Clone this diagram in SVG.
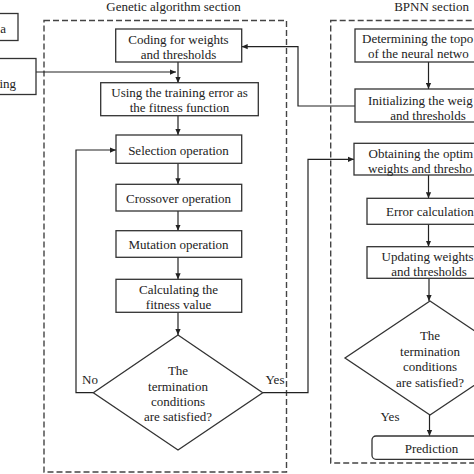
<svg xmlns="http://www.w3.org/2000/svg" width="474" height="474" viewBox="0 0 474 474">
<defs>
<marker id="arr" viewBox="0 0 8 8" refX="8" refY="4" markerWidth="6" markerHeight="6" markerUnits="userSpaceOnUse" orient="auto">
<path d="M0,0.5 L8,4 L0,7.5 z" fill="#222"/>
</marker>
<style>
text{font-family:"Liberation Serif","Times New Roman",serif;font-size:13px;fill:#222;text-anchor:middle}
.st{text-anchor:start}
.box{fill:#fff;stroke:#333;stroke-width:1.3}
.sec{fill:none;stroke:#444;stroke-width:1.4;stroke-dasharray:6 3}
.ln{fill:none;stroke:#222;stroke-width:1.2}
.ar{fill:none;stroke:#222;stroke-width:1.2;marker-end:url(#arr)}
</style>
</defs>
<rect width="474" height="474" fill="#fff"/>
<g id="sections">
<rect class="sec" x="44" y="20.5" width="242.5" height="451.5"/>
<text x="173.5" y="10.5">Genetic algorithm section</text>
<rect class="sec" x="330.7" y="20.5" width="220" height="442.5"/>
<text x="431.5" y="10.5">BPNN section</text>
</g>
<g id="connectors">
<path class="ar" d="M36,72 H176"/>
<path class="ar" d="M178,62 V83"/>
<path class="ar" d="M178,116 V135"/>
<path class="ar" d="M178,163.3 V184.3"/>
<path class="ar" d="M178,211 V230.7"/>
<path class="ar" d="M178,257.3 V279.3"/>
<path class="ar" d="M178,312.3 V335"/>
<path class="ar" d="M93.3,392.7 H76 V150 H116"/>
<path class="ar" d="M262.7,392.7 H308 V159.3 H354"/>
<path class="ar" d="M355,106 H298 V46.7 H241.7"/>
<path class="ar" d="M428.5,62 V89"/>
<path class="ar" d="M428.5,175 V198.3"/>
<path class="ar" d="M428.5,224.3 V246.7"/>
<path class="ar" d="M429,278.3 V301"/>
<path class="ar" d="M429.5,415 V436"/>
</g>
<g id="node-data">
<rect class="box" x="-20" y="13.5" width="38" height="27"/>
<text x="6" y="33" style="text-anchor:end">a</text>
</g>
<g id="node-preprocessing">
<rect class="box" x="-40" y="58.5" width="76" height="36"/>
<text x="16" y="88" style="text-anchor:end">ing</text>
</g>
<g id="node-coding">
<rect class="box" x="115.7" y="29" width="126" height="33"/>
<text x="178.5" y="43.5">Coding for weights</text>
<text x="178.5" y="58.5">and thresholds</text>
</g>
<g id="node-fitness-function">
<rect class="box" x="100.7" y="82.7" width="157.6" height="33"/>
<text x="179.5" y="96.5">Using the training error as</text>
<text x="179.5" y="111.5">the fitness function</text>
</g>
<g id="node-selection">
<rect class="box" x="116" y="135" width="125.7" height="28.3"/>
<text x="178.5" y="154.5">Selection operation</text>
</g>
<g id="node-crossover">
<rect class="box" x="116" y="184.3" width="125.7" height="26.7"/>
<text x="178.5" y="202.5">Crossover operation</text>
</g>
<g id="node-mutation">
<rect class="box" x="116" y="230.7" width="125.7" height="26.6"/>
<text x="178.5" y="248.5">Mutation operation</text>
</g>
<g id="node-calc-fitness">
<rect class="box" x="116" y="279.3" width="125.7" height="33"/>
<text x="178.5" y="293.5">Calculating the</text>
<text x="178.5" y="308.5">fitness value</text>
</g>
<g id="node-ga-termination">
<path class="box" d="M178,335 L262.7,392.7 L178,450 L93.3,392.7 z"/>
<text x="178" y="374.5">The</text>
<text x="178" y="390.5">termination</text>
<text x="178" y="405.5">conditions</text>
<text x="178" y="421">are satisfied?</text>
<text x="90" y="383.5">No</text>
<text x="275" y="383.5">Yes</text>
</g>
<g id="node-topology">
<rect class="box" x="355" y="29" width="150" height="33"/>
<text class="st" x="362" y="43">Determining the topo</text>
<text class="st" x="368" y="58">of the neural netwo</text>
</g>
<g id="node-init">
<rect class="box" x="355" y="89" width="150" height="33"/>
<text class="st" x="368" y="104.5">Initializing the weig</text>
<text x="428" y="119.5">and thresholds</text>
</g>
<g id="node-optimal">
<rect class="box" x="354" y="143.3" width="152" height="31.7"/>
<text class="st" x="368.5" y="157.5">Obtaining the optim</text>
<text class="st" x="368" y="172.5">weights and thresho</text>
</g>
<g id="node-error">
<rect class="box" x="367" y="198.3" width="126" height="26"/>
<text class="st" x="386" y="216">Error calculation</text>
</g>
<g id="node-update">
<rect class="box" x="367" y="246.7" width="126" height="31.6"/>
<text class="st" x="381.5" y="261">Updating weights</text>
<text x="429" y="276">and thresholds</text>
</g>
<g id="node-bp-termination">
<path class="box" d="M430,301 L515,358 L430,415 L345,358 z"/>
<text x="430" y="339.5">The</text>
<text x="430" y="356">termination</text>
<text x="430" y="371">conditions</text>
<text x="430" y="387">are satisfied?</text>
<text x="390" y="420.5">Yes</text>
</g>
<g id="node-prediction">
<rect class="box" x="372" y="436" width="116" height="23.3" rx="4"/>
<text x="431.5" y="452.5">Prediction</text>
</g>
</svg>
